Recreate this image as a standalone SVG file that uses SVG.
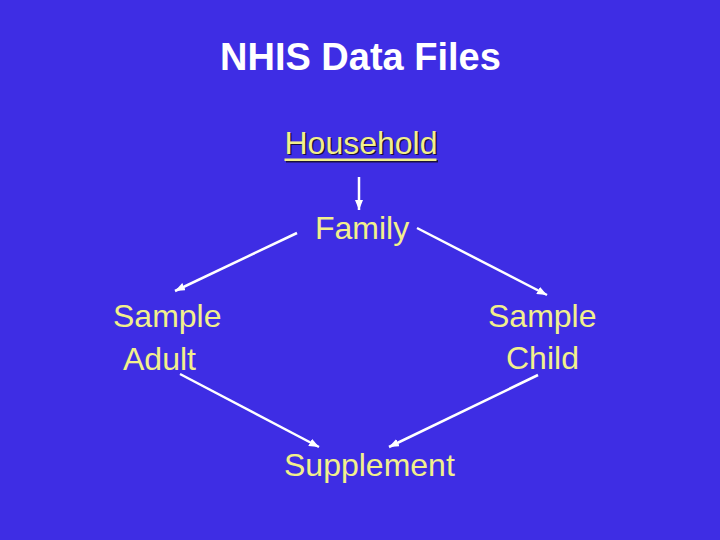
<svg xmlns="http://www.w3.org/2000/svg" width="720" height="540" viewBox="0 0 720 540">
<defs>
<style>
.lbl{font-family:"Liberation Sans",Arial,sans-serif;font-size:32px;fill:#f2f08c}
.title{font-family:"Liberation Sans",Arial,sans-serif;font-size:38px;font-weight:bold;fill:#ffffff}
.edge{stroke:#ffffff;stroke-width:2.5;fill:none;marker-end:url(#ah)}
</style>
<marker id="ah" viewBox="0 0 10 8" refX="10" refY="4" markerWidth="10" markerHeight="8" markerUnits="userSpaceOnUse" orient="auto">
<path d="M0,0 L10,4 L0,8 z" fill="#ffffff"/>
</marker>
</defs>
<rect x="0" y="0" width="720" height="540" fill="#3e2de4"/>
<text class="title" x="220" y="70">NHIS Data Files</text>
<g id="household">
<text class="lbl" x="286" y="155" fill="#000000" style="fill:#1a1040">Household</text>
<rect x="286" y="160" width="152" height="2.5" fill="#1a1040"/>
<text class="lbl" x="284.5" y="153.5">Household</text>
<rect x="284.5" y="158.5" width="152" height="2.5" fill="#f2f08c"/>
</g>
<g id="family"><text class="lbl" x="315" y="239">Family</text></g>
<g id="sample-adult"><text class="lbl" x="113" y="327">Sample</text><text class="lbl" x="123" y="370">Adult</text></g>
<g id="sample-child"><text class="lbl" x="488" y="327">Sample</text><text class="lbl" x="506" y="369">Child</text></g>
<g id="supplement"><text class="lbl" x="284" y="476">Supplement</text></g>
<g id="connectors">
<line class="edge" x1="359" y1="177" x2="359" y2="210"/>
<line class="edge" x1="297" y1="233" x2="175" y2="291"/>
<line class="edge" x1="417" y1="228" x2="547" y2="295"/>
<line class="edge" x1="180" y1="374" x2="319" y2="447"/>
<line class="edge" x1="538" y1="375" x2="389" y2="447"/>
</g>
</svg>
